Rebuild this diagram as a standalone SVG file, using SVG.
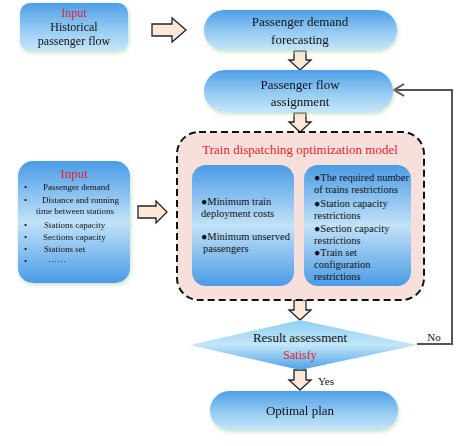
<svg xmlns="http://www.w3.org/2000/svg" width="474" height="446" viewBox="0 0 474 446">
<defs>
<linearGradient id="gStad" x1="0" y1="0" x2="0" y2="1">
<stop offset="0" stop-color="#4d9ee8"/>
<stop offset="0.55" stop-color="#95cbf3"/>
<stop offset="1" stop-color="#c6e6f9"/>
</linearGradient>
<linearGradient id="gBox" x1="0" y1="0" x2="0" y2="1">
<stop offset="0" stop-color="#4a9be6"/>
<stop offset="0.5" stop-color="#c2e2f8"/>
<stop offset="1" stop-color="#4a9be6"/>
</linearGradient>
<linearGradient id="gDia" x1="0" y1="0" x2="0" y2="1">
<stop offset="0" stop-color="#8fd0f3"/>
<stop offset="0.5" stop-color="#c2e6f9"/>
<stop offset="1" stop-color="#4aa3e6"/>
</linearGradient>
<filter id="glow" x="-10%" y="-20%" width="120%" height="150%">
<feDropShadow dx="1" dy="2" stdDeviation="2" flood-color="#b7dcc0" flood-opacity="0.8"/>
</filter>
<marker id="ah" markerWidth="14" markerHeight="14" refX="12" refY="7" orient="auto" markerUnits="userSpaceOnUse">
<path d="M2,1 L12,7 L2,13" fill="none" stroke="#555" stroke-width="2"/>
</marker>
</defs>
<style>
text{font-family:"Liberation Serif","Times New Roman",serif;fill:#111}
.c{text-anchor:middle}
.red{fill:#e8202a}
.t13{font-size:13px}
.t12{font-size:12px}
.t11{font-size:11px}
.t105{font-size:10.5px}
.t9{font-size:9px}
.arr{fill:#fde8d8;stroke:#222;stroke-width:1.3}
.node{filter:url(#glow)}
</style>
<rect width="474" height="446" fill="#ffffff"/>

<g id="connectors">
<path class="arr" d="M152,24 L172,24 L172,18 L186,30 L172,42 L172,36 L152,36 Z"/>
<path class="arr" d="M294,51 L306,51 L306,60 L311,60 L300,70 L289,60 L294,60 Z"/>
<path class="arr" d="M294,113 L306,113 L306,122 L311,122 L300,132 L289,122 L294,122 Z"/>
<path class="arr" d="M138,206 L156,206 L156,201 L167,212 L156,223 L156,218 L138,218 Z"/>
<path class="arr" d="M294,300 L306,300 L306,310 L311,310 L300,320 L289,310 L294,310 Z"/>
<path class="arr" d="M294,370 L306,370 L306,380 L311,380 L300,390 L289,380 L294,380 Z"/>
<path d="M417,344 L452,344 L452,90 L394,90" fill="none" stroke="#555" stroke-width="2" marker-end="url(#ah)"/>
<text x="434" y="341" class="c t11">No</text>
<text x="318" y="385" class="t11">Yes</text>
</g>

<g id="input1" class="node">
<rect x="20" y="3" width="108" height="48" rx="10" fill="url(#gStad)"/>
<text x="74" y="17" class="c t12 red">Input</text>
<text x="74" y="31" class="c t12">Historical</text>
<text x="74" y="45" class="c t12">passenger  flow</text>
</g>

<g id="forecast" class="node">
<rect x="204" y="10" width="193" height="40" rx="20" fill="url(#gStad)"/>
<text x="300" y="26" class="c t13">Passenger demand</text>
<text x="300" y="44" class="c t13">forecasting</text>
</g>

<g id="assignment" class="node">
<rect x="204" y="70" width="189" height="42" rx="21" fill="url(#gStad)"/>
<text x="300" y="89" class="c t13">Passenger flow</text>
<text x="300" y="106" class="c t13">assignment</text>
</g>

<g id="input2" class="node">
<rect x="18" y="161" width="112" height="122" rx="15" fill="url(#gBox)"/>
<text x="74" y="178" class="c t13 red">Input</text>
<g class="t9">
<text x="24" y="190">•</text>
<text x="43" y="190">Passenger demand</text>
<text x="24" y="203">•</text>
<text x="42" y="203">Distance and running</text>
<text x="36" y="214">time between stations</text>
<text x="24" y="228">•</text>
<text x="44" y="228">Stations capacity</text>
<text x="24" y="240">•</text>
<text x="43" y="240">Sections capacity</text>
<text x="24" y="252">•</text>
<text x="44" y="252">Stations set</text>
<text x="24" y="264">•</text>
<text x="48" y="262">……</text>
</g>
</g>

<g id="model">
<rect x="177" y="132" width="247" height="168" rx="22" fill="#f7e0dc" stroke="#111" stroke-width="2" stroke-dasharray="7,4"/>
<text x="300" y="154" class="c t13 red">Train dispatching  optimization  model</text>
<rect x="192" y="165" width="102" height="121" rx="14" fill="url(#gBox)"/>
<rect x="304" y="165" width="107" height="121" rx="14" fill="url(#gBox)"/>
<g class="t105">
<text x="201" y="205">●Minimum train</text>
<text x="201" y="217">deployment costs</text>
<text x="201" y="240">●Minimum unserved</text>
<text x="203" y="252">passengers</text>
<text x="314" y="181">●The required number</text>
<text x="314" y="193">of trains restrictions</text>
<text x="314" y="207">●Station capacity</text>
<text x="314" y="219">restrictions</text>
<text x="314" y="232">●Section capacity</text>
<text x="314" y="244">restrictions</text>
<text x="314" y="256">●Train  set</text>
<text x="314" y="268">configuration</text>
<text x="314" y="280">restrictions</text>
</g>
</g>

<g id="assessment">
<polygon points="190,345 300,320 417,345 300,370" fill="url(#gDia)"/>
<text x="300" y="342" class="c t13">Result assessment</text>
<text x="300" y="359" class="c t12 red">Satisfy</text>
</g>

<g id="optimal" class="node">
<rect x="210" y="391" width="188" height="39" rx="19.5" fill="url(#gStad)"/>
<text x="300" y="415" class="c t13">Optimal plan</text>
</g>
</svg>
